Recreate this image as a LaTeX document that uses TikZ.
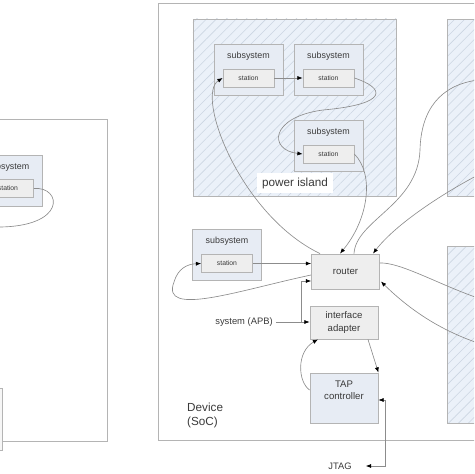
\documentclass[tikz,border=0pt]{standalone}
\usepackage{fontspec}
\setmainfont{Liberation Sans}
\usetikzlibrary{arrows.meta,calc,patterns.meta}
\definecolor{boxline}{HTML}{B4B4B4}
\definecolor{wirecol}{HTML}{8C8C8C}
\definecolor{subfill}{HTML}{E7ECF4}
\definecolor{stafill}{HTML}{EEEEEE}
\definecolor{islandfill}{HTML}{EBF1F9}
\definecolor{hatch}{HTML}{CCD6E2}
\definecolor{ink}{HTML}{3A3A3A}

\tikzset{
  device/.style={draw=boxline, line width=0.7pt},
  subsys/.style={draw=boxline, fill=subfill, line width=0.7pt, minimum width=2.07cm,
    minimum height=1.53cm, inner sep=0pt,
    label={[font=\fontsize{7.6}{9}\selectfont, text=ink, anchor=center, yshift=-3.75mm]north:subsystem}},
  station/.style={draw=boxline, fill=stafill, line width=0.6pt, minimum width=1.53cm,
    minimum height=0.54cm, inner sep=0pt, font=\fontsize{5.8}{7}\selectfont, text=ink},
  block/.style={draw=boxline, fill=stafill, line width=0.7pt, minimum width=2.04cm,
    inner sep=0pt, align=center, font=\fontsize{8.2}{10.5}\selectfont, text=ink},
  island/.style={draw=boxline, line width=0.7pt, preaction={fill=islandfill},
    pattern={Lines[angle=45,distance=6pt,line width=0.5pt]}, pattern color=hatch},
  lbl/.style={font=\fontsize{8}{10}\selectfont, text=ink, inner sep=0pt},
  wire/.style={draw=wirecol, line width=0.55pt},
  arr/.style={wire, -{Latex[length=4.5pt,width=3.5pt,color=black]}},
  biarr/.style={wire, {Latex[length=4.5pt,width=3.5pt,color=black]}-{Latex[length=4.5pt,width=3.5pt,color=black]}},
}

\begin{document}
\begin{tikzpicture}[x=0.03cm, y=-0.03cm]
  \clip (0,0) rectangle (474,474);

  % Devices
  \draw[device] (-10,119) rectangle (107,441);
  \draw[device] (158,3) rectangle (490,440);

  % Neighbouring islands
  \draw[island] (447,19) rectangle (510,196);
  \draw[island] (447,246) rectangle (510,423);
  \node[island, minimum width=6.09cm, minimum height=5.31cm] (pisland) at (294.5,107.5) {};

  % Subsystems in the power island
  \foreach \n/\x/\y in {1/248.5/69.5, 2/328.5/69.5, 3/328.5/145.5} {
    \node[subsys] (sub\n) at (\x,\y) {};
    \node[station] (st\n) at (\x,\y+8.5) {station};
  }
  \node[lbl, fill=white, minimum width=2.28cm, minimum height=0.6cm,
    font=\fontsize{10}{12}\selectfont] (pilabel) at (295,183) {power island};

  % Left device (partly shown)
  \node[subsys] (sub0) at (8,181) {};
  \node[station] (st0) at (8,188.5) {station};
  \draw[device, fill=stafill!50] (-20,388) rectangle (2,450);

  % Debug blocks
  \node[subsys] (sub4) at (227,255) {};
  \node[station] (st4) at (227,263.5) {station};
  \node[block, minimum height=1.05cm] (router) at (345.5,271.5) {router};
  \node[block, minimum height=0.99cm] (adapter) at (344,322.5) {interface\\adapter};
  \node[block, fill=subfill, minimum height=1.5cm,
    label={[lbl, font=\fontsize{8.2}{10.5}\selectfont, align=center, anchor=center, yshift=2.4mm]center:TAP\\controller}] (tap) at (344,398) {};

  % Labels
  \node[lbl] (apb) at (244,322) {system (APB)};
  \node[lbl, font=\fontsize{10}{12}\selectfont, align=left, anchor=west] (soc) at (187,415) {Device\\(SoC)};
  \node[lbl] (jtag) at (340,466) {JTAG};

  % Free ends
  \coordinate (offA) at (478,80);
  \coordinate (offB) at (478,175);
  \coordinate (offC) at (478,298);
  \coordinate (offD) at (478,343);
  \coordinate (offL) at (-5,227);
  \coordinate (apbjoin) at (301,322);

  % Ring inside the power island
  \draw[arr] (st1) -- (st2);
  \draw[arr] (st2.east) .. controls (385,88) and (390,104) .. (323,110)
    .. controls (270,117) and (268,150) .. (st3.west);
  \draw[arr] (st3.east) .. controls (375,175) and (368,220) .. ($(router.north)+(-5.5,0)$);
  \draw[arr] ($(router.north)+(-25.5,0)$) .. controls (240,215) and (195,95) .. (st1.west);

  % Links to the other islands
  \draw[wire] ($(router.north)+(8.5,0)$) .. controls (356,220) and (418,205) .. (420,150)
    .. controls (421,110) and (440,85) .. (offA);
  \draw[arr] (offB) .. controls (440,195) and (395,225) .. ($(router.north)+(27.5,0)$);
  \draw[wire] ($(router.east)+(0,-8.5)$) .. controls (400,262) and (440,285) .. (offC);
  \draw[arr] (offD) .. controls (440,330) and (410,310) .. ($(router.east)+(1,10)$);

  % Local subsystem ring
  \draw[arr] (st4) -- (router.west |- st4);
  \draw[arr] ($(router.west)+(0,3.5)$) .. controls (240,290) and (160,318) .. (174,282)
    .. controls (178,268) and (188,264) .. (st4.west);
  \draw[wire] (st0.east) .. controls (62,186) and (68,228) .. (offL);

  % Access path
  \draw[arr] ($(apb.east)+(3,0)$) -- (adapter.west |- apb);
  \draw[arr] (apbjoin) |- ($(router.west)+(0,9.5)$);
  \draw[arr] ($(adapter.south)+(24,0)$) -- (tap.north east);
  \draw[arr] ($(tap.west)+(0,-8)$) .. controls (298,382) and (296,352) .. ($(adapter.south)+(-26,0)$);
  \draw[biarr] ($(tap.east)+(0,2)$) -- ++(7,0) |- ($(jtag.east)+(14,0)$);
\end{tikzpicture}
\end{document}
